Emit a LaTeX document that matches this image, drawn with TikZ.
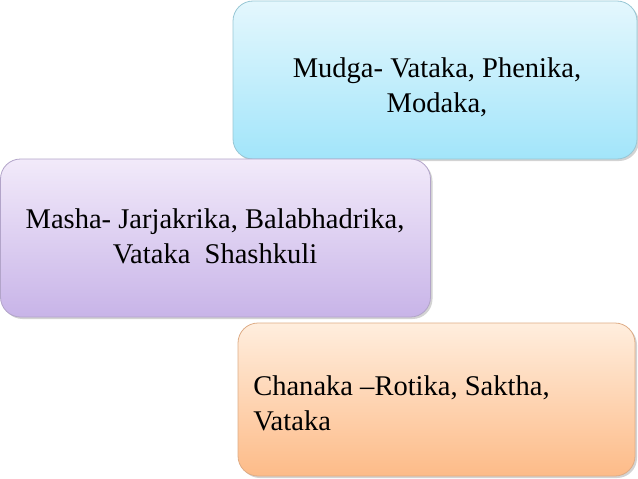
\documentclass[tikz,border=0pt]{standalone}
\usepackage{fontspec}
\setmainfont{Liberation Serif}
\usetikzlibrary{shadows}

\definecolor{mudgatop}{RGB}{228,247,253}
\definecolor{mudgabot}{RGB}{162,229,250}
\definecolor{mashatop}{RGB}{242,234,250}
\definecolor{mashabot}{RGB}{200,180,232}
\definecolor{chanatop}{RGB}{255,238,222}
\definecolor{chanabot}{RGB}{253,187,136}

\tikzset{
	itembox/.style={rectangle, rounded corners=15pt, line width=0.6pt,
		shading=axis, shading angle=0,
		drop shadow={opacity=0.35, shadow xshift=1.5pt, shadow yshift=-1.5pt}},
	itemtext/.style={inner sep=0pt, anchor=base, font=\fontsize{21.4}{26.25}\selectfont},
}

\begin{document}
\begin{tikzpicture}[x=0.75pt,y=0.75pt,yscale=-1,xscale=1]
		\useasboundingbox (0,0) rectangle (638,478);
		
		%Shape: Rounded box, Mudga
		\node (mudga) [itembox, top color=mudgatop, bottom color=mudgabot, draw=mudgabot!70!gray,
			minimum width=303pt, minimum height=118.5pt] at (435,80) {};
		%Shape: Rounded box, Masha
		\node (masha) [itembox, top color=mashatop, bottom color=mashabot, draw=mashabot!70!gray,
			minimum width=322.5pt, minimum height=118.5pt] at (215.5,238) {};
		%Shape: Rounded box, Chanaka
		\node (chanaka) [itembox, top color=chanatop, bottom color=chanabot, draw=chanabot!75!gray,
			minimum width=297.75pt, minimum height=114.75pt] at (436.5,399.5) {};
		
		% Text Node (base = last line)
		\node (mudgatext) [itemtext, align=center] at (437,112)
			{Mudga- Vataka, Phenika,\\Modaka,};
		% Text Node
		\node (mashatext) [itemtext, align=center] at (215,263)
			{Masha- Jarjakrika, Balabhadrika,\\Vataka\ \ Shashkuli};
		% Text Node
		\node (chanakatext) [itemtext, align=left, anchor=base west] at (253,430)
			{Chanaka --Rotika, Saktha,\\Vataka};
		
		\end{tikzpicture}
\end{document}
